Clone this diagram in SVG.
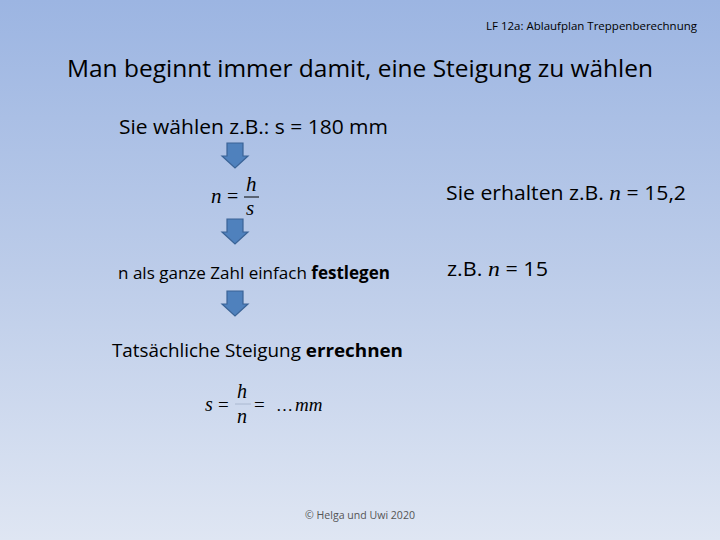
<svg xmlns="http://www.w3.org/2000/svg" width="720" height="540" viewBox="0 0 720 540">
<defs>
<linearGradient id="bg" x1="0" y1="0" x2="0" y2="1">
<stop offset="0" stop-color="#9cb5e2"/>
<stop offset="0.5" stop-color="#bccce9"/>
<stop offset="1" stop-color="#dfe6f3"/>
</linearGradient>
<path id="arr" d="M-8,0 H8 V13 H13 L0,25 L-13,13 H-8 Z"/>
</defs>
<style>
.t{font-family:"Open Sans","Liberation Sans",sans-serif;fill:#000}
.m{font-family:"Liberation Serif",serif;font-style:italic;fill:#000}
.mr{font-family:"Liberation Serif",serif;fill:#000}
.a{fill:#4f81bd;stroke:#3a6396;stroke-width:1.2}
</style>
<rect width="720" height="540" fill="url(#bg)"/>
<g id="header"><text class="t" x="486" y="30" font-size="11" textLength="211" lengthAdjust="spacingAndGlyphs">LF 12a: Ablaufplan Treppenberechnung</text></g>
<g id="title"><text class="t" x="67" y="77" font-size="24" textLength="586" lengthAdjust="spacingAndGlyphs">Man beginnt immer damit, eine Steigung zu wählen</text></g>
<g id="step1"><text class="t" x="119" y="134" font-size="20" textLength="269" lengthAdjust="spacingAndGlyphs">Sie wählen z.B.: s = 180 mm</text></g>
<g id="connectors">
<use href="#arr" class="a" transform="translate(235,143)"/>
<use href="#arr" class="a" transform="translate(235,219)"/>
<use href="#arr" class="a" transform="translate(235,291)"/>
</g>
<g id="formula1">
<text class="m" x="211" y="203" font-size="21">n</text>
<text class="mr" x="227" y="203" font-size="20">=</text>
<text class="m" x="246" y="191" font-size="21">h</text>
<line x1="244" y1="197" x2="259" y2="197" stroke="#000" stroke-width="1"/>
<text class="m" x="246" y="215" font-size="21">s</text>
</g>
<g id="result1"><text class="t" x="446" y="200" font-size="20" textLength="240" lengthAdjust="spacingAndGlyphs"><tspan>Sie erhalten z.B. </tspan><tspan font-family="Liberation Serif" font-style="italic" font-size="22">n</tspan><tspan> = 15,2</tspan></text></g>
<g id="step2"><text class="t" x="118" y="279" font-size="17" textLength="272" lengthAdjust="spacingAndGlyphs">n als ganze Zahl einfach <tspan font-weight="bold">festlegen</tspan></text></g>
<g id="result2"><text class="t" x="447" y="276" font-size="20" textLength="101" lengthAdjust="spacingAndGlyphs"><tspan>z.B. </tspan><tspan font-family="Liberation Serif" font-style="italic" font-size="22">n</tspan><tspan> = 15</tspan></text></g>
<g id="step3"><text class="t" x="112" y="357" font-size="18" textLength="291" lengthAdjust="spacingAndGlyphs">Tatsächliche Steigung <tspan font-weight="bold">errechnen</tspan></text></g>
<g id="formula2">
<text class="m" x="205" y="411" font-size="20">s</text>
<text class="mr" x="218" y="411" font-size="19">=</text>
<text class="m" x="237" y="398" font-size="20">h</text>
<line x1="235" y1="404" x2="251" y2="404" stroke="#aab8d0" stroke-width="1"/>
<text class="m" x="237" y="423" font-size="20">n</text>
<text class="mr" x="254" y="411" font-size="19">=</text>
<text class="mr" x="276" y="411" font-size="17">…</text>
<text class="m" x="295" y="411" font-size="19">mm</text>
</g>
<g id="footer"><text class="t" x="305" y="519" font-size="11" style="fill:#555" textLength="110" lengthAdjust="spacingAndGlyphs">© Helga und Uwi 2020</text></g>
</svg>
